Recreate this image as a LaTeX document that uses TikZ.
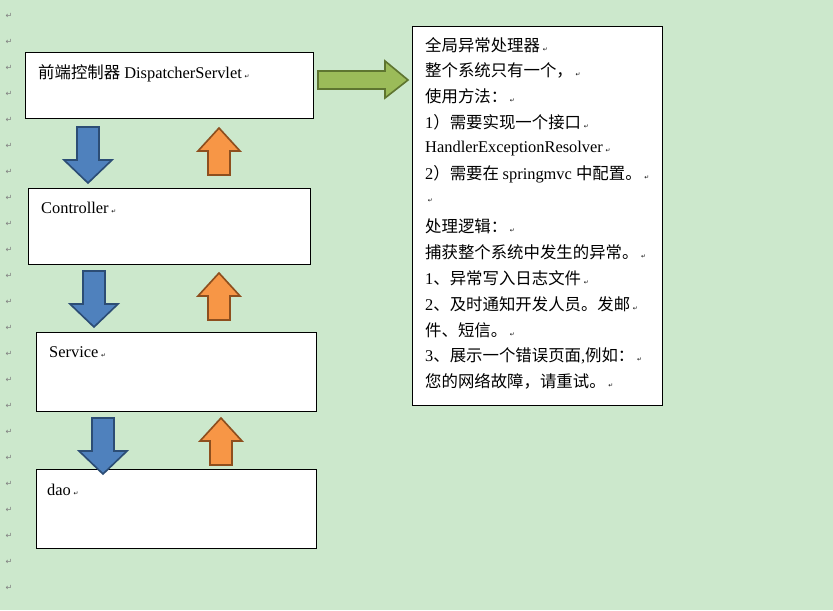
\documentclass[tikz,border=0pt]{standalone}
\usepackage{fontspec}
\setmainfont{Liberation Serif}
\newfontfamily\cjk{Noto Sans CJK SC}
\newfontfamily\markfont{DejaVu Sans}
\definecolor{pagegreen}{HTML}{CCE8CC}
\definecolor{blueA}{HTML}{4F81BD}
\definecolor{blueB}{HTML}{2C4D75}
\definecolor{orangeA}{HTML}{F79646}
\definecolor{orangeB}{HTML}{8E4F1E}
\definecolor{greenA}{HTML}{9BBB59}
\definecolor{greenB}{HTML}{5E7530}
\tikzset{
  layer/.style={draw=black, fill=white, line width=0.6pt},
  txt/.style={anchor=west, inner sep=0pt, font=\fontsize{14pt}{16pt}\selectfont},
  pmark/.style={inner sep=0pt, font=\markfont\fontsize{7pt}{8pt}\selectfont, text=gray}
}
\newcommand{\downarr}[3]{% center x, top y, bottom y
  \draw[fill=blueA, draw=blueB, line width=1.4pt]
    (#1-11,#2) -- (#1+11,#2) -- (#1+11,#3-23) -- (#1+24,#3-23) -- (#1,#3)
    -- (#1-24,#3-23) -- (#1-11,#3-23) -- cycle;}
\newcommand{\uparr}[3]{% center x, top y, bottom y
  \draw[fill=orangeA, draw=orangeB, line width=1.4pt]
    (#1-11,#3) -- (#1+11,#3) -- (#1+11,#2+23) -- (#1+21,#2+23) -- (#1,#2)
    -- (#1-21,#2+23) -- (#1-11,#2+23) -- cycle;}
\begin{document}
\begin{tikzpicture}[x=0.03cm, y=-0.03cm]
  \fill[pagegreen] (0,0) rectangle (833,610);
  \useasboundingbox (0,0) rectangle (833,610);

  % paragraph marks in the margin
  \foreach \y in {16,42,68,94,120,146,172,198,224,250,276,302,328,354,380,406,432,458,484,510,536,562,588}
    \node[pmark] at (9,\y) {↵};

  % layers
  \draw[layer] (25,52) rectangle (313,118);
  \draw[layer] (28,188) rectangle (310,264);
  \draw[layer] (36,332) rectangle (316,411);
  \draw[layer] (36,469) rectangle (316,548);
  \node[txt] (disp) at (38,73) {{\cjk 前端控制器} DispatcherServlet\,{\markfont\tiny ↵}};
  \node[txt] (ctrl) at (41,208) {Controller\,{\markfont\tiny ↵}};
  \node[txt] (serv) at (49,352) {Service\,{\markfont\tiny ↵}};
  \node[txt] (dao) at (47,490) {dao\,{\markfont\tiny ↵}};

  % arrows down and up
  \downarr{88}{127}{183}
  \downarr{94}{271}{327}
  \downarr{103}{418}{474}
  \uparr{219}{128}{175}
  \uparr{219}{273}{320}
  \uparr{221}{418}{465}

  % arrow to the handler
  \draw[fill=greenA, draw=greenB, line width=1.4pt]
    (318,71) -- (385,71) -- (385,61) -- (408,80) -- (385,98) -- (385,89) -- (318,89) -- cycle;

  % global exception handler
  \draw[layer] (412,26) rectangle (662,405);
  \foreach \t [count=\i] in {
      {\cjk 全局异常处理器},
      {\cjk 整个系统只有一个，},
      {\cjk 使用方法：},
      {1\cjk）需要实现一个接口},
      {HandlerExceptionResolver},
      {2\cjk）需要在 \rmfamily springmvc \cjk 中配置。},
      {},
      {\cjk 处理逻辑：},
      {\cjk 捕获整个系统中发生的异常。},
      {1\cjk 、异常写入日志文件},
      {2\cjk 、及时通知开发人员。发邮},
      {\cjk 件、短信。},
      {3\cjk 、展示一个错误页面\rmfamily ,\cjk 例如：},
      {\cjk 您的网络故障，请重试。}}
    \node[txt] (h\i) at (425,19+\i*25.9) {\t\,{\markfont\tiny ↵}};
\end{tikzpicture}
\end{document}
